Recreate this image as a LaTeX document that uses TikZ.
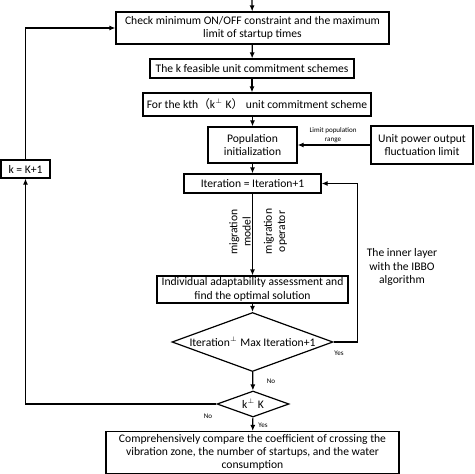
\documentclass[tikz,border=0pt]{standalone}
\usepackage{fontspec}
\setmainfont{Carlito}
\newfontfamily\cjk{Noto Sans CJK SC}
\usetikzlibrary{shapes.geometric,arrows.meta}
\tikzset{every picture/.style={line width=0.9pt}}
\tikzset{
  flowbox/.style={draw, rectangle, align=center, inner sep=1pt, font=\fontsize{8.7}{10}\selectfont},
  decision/.style={draw, diamond, inner sep=0pt, font=\fontsize{8.7}{10}\selectfont},
  smalllbl/.style={inner sep=0.75pt, align=center, font=\fontsize{5.3}{6.7}\selectfont},
  midlbl/.style={inner sep=0.75pt, align=center, font=\fontsize{8.7}{10}\selectfont},
  flowarrow/.style={-{Latex[length=4.5pt,width=3.8pt]}},
}
\newcommand{\smallperp}{$^{\scriptscriptstyle\perp}$}

\begin{document}
\begin{tikzpicture}[x=0.75pt,y=0.75pt,yscale=-1,xscale=1]
\useasboundingbox (0,0) rectangle (474,474);

% Boxes
\node [flowbox, minimum width=204.75pt, minimum height=24pt] (chk) at (252.5,28) {Check minimum ON/OFF constraint and the maximum\\limit of startup times};
\node [flowbox, minimum width=153pt, minimum height=14.25pt] (feas) at (252,68.5) {The k feasible unit commitment schemes};
\node [flowbox, minimum width=171pt, minimum height=17.25pt] (kth) at (257,104.5) {For the kth{\cjk （}k\smallperp\ K{\cjk ）} unit commitment scheme};
\node [flowbox, minimum width=66.75pt, minimum height=27pt] (pop) at (252.5,145) {Population\\initialization};
\node [flowbox, minimum width=76.5pt, minimum height=28.5pt] (unit) at (422,145) {Unit power output\\fluctuation limit};
\node [flowbox, minimum width=36.75pt, minimum height=13.5pt] (knext) at (25.5,169) {k = K+1};
\node [flowbox, minimum width=102.75pt, minimum height=14.25pt] (iter) at (252.5,183.5) {Iteration = Iteration+1};
\node [flowbox, minimum width=143.25pt, minimum height=20.25pt] (assess) at (252.5,289.5) {Individual adaptability assessment and\\find the optimal solution};
\node [decision, minimum width=120.75pt, minimum height=44.25pt, aspect=2.73] (itmax) at (252.5,342) {Iteration\smallperp\ Max Iteration+1};
\node [decision, minimum width=54pt, minimum height=19.5pt, aspect=2.77] (kmax) at (253,404) {k\smallperp\ K};
\node [flowbox, minimum width=219.75pt, minimum height=31.5pt] (result) at (252.5,452.5) {Comprehensively compare the coefficient of crossing the\\vibration zone, the number of startups, and the water\\consumption};

% Connectors
\coordinate (start) at (252,0);
\draw [flowarrow] (start) -- (chk);
\draw [flowarrow] (chk) -- (feas);
\draw [flowarrow] (feas) -- (feas |- kth.north);
\draw [flowarrow] (pop |- kth.south) -- (pop);
\draw [flowarrow] (pop) -- (iter);
\draw [flowarrow] (unit) -- (pop);
\draw [flowarrow] (iter) -- (assess);
\draw [flowarrow] (assess) -- (itmax);
\draw [flowarrow] (itmax.east) -- ++(24,0) |- (iter.east);
\draw [flowarrow] (itmax) -- (kmax);
\draw [flowarrow] (kmax) -- (result);
\draw [flowarrow] (kmax.west) -| (knext.south);
\draw [flowarrow] (knext.north) |- (chk.west);

% Labels
\node [smalllbl] (lim) at (333,135.5) {Limit population\\range};
\node [midlbl, rotate=90] (mmodel) at (240,232) {migration\\model};
\node [midlbl, rotate=90] (mop) at (275.5,231.5) {migration\\operator};
\node [midlbl] (inner) at (402,267) {The inner layer\\with the IBBO\\algorithm};
\node [smalllbl] (yes1) at (339,353) {Yes};
\node [smalllbl] (no1) at (271,381) {No};
\node [smalllbl] (no2) at (208,416) {No};
\node [smalllbl] (yes2) at (263,425) {Yes};

\end{tikzpicture}
\end{document}
